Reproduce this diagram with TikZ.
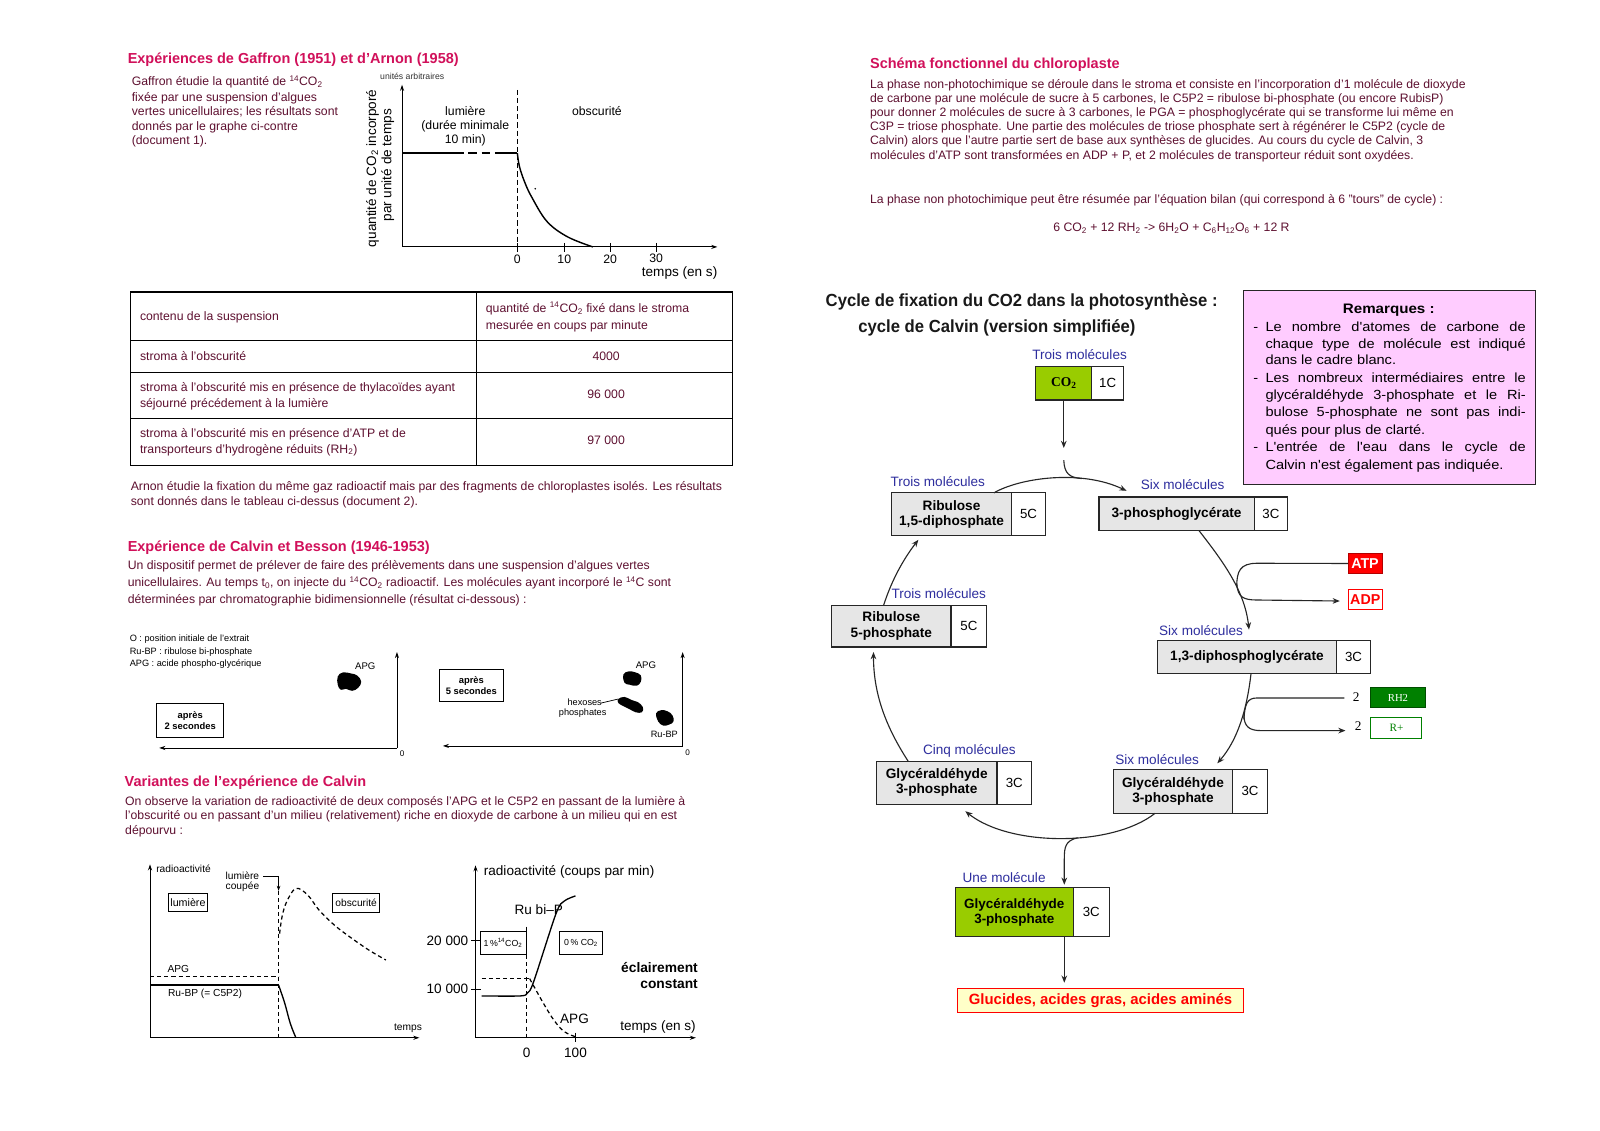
\documentclass[tikz,border=0pt]{standalone}
\usepackage{fontspec}
\setmainfont{Liberation Sans}
\newfontfamily\serifb{Liberation Serif}
\newfontfamily\wide[FakeStretch=1.1]{Liberation Sans}
\newfontfamily\titlef[FakeStretch=0.95]{Liberation Sans}
\usetikzlibrary{arrows.meta,calc}
\definecolor{head}{HTML}{D1105A}
\definecolor{body}{HTML}{5E1030}
\definecolor{lblue}{HTML}{2E2E9E}
\definecolor{gboxc}{HTML}{E6E6E6}
\definecolor{limeg}{HTML}{99CC00}
\definecolor{pinkbg}{HTML}{FFCCFF}
\definecolor{prodbg}{HTML}{FFFFC8}
\definecolor{dgreen}{HTML}{008000}
\newcommand\fsz[2]{\fontsize{#1}{#2}\selectfont}
\newcounter{tl}
\newcommand\tline[4][txt]{\stepcounter{tl}\node[#1] (tl\arabic{tl}) at (#2,#3) {#4};}
\newcommand\cyclebox[9]{%
 \node[#2, minimum width=#4-#3, minimum height=#7-#6] (#1) at (#3,#6) {#8};%
 \node[wbx, minimum width=#5-#4, minimum height=#7-#6] (#1c) at (#4,#6) {#9};}
\tikzset{
 txt/.style={inner sep=0, anchor=base west, text=body, font=\fsz{12}{14}},
 hd/.style={inner sep=0, anchor=base west, text=head, font=\bfseries\fsz{14.2}{16}},
 gt/.style={inner sep=0, text=black, font=\fsz{12}{14}},
 gts/.style={inner sep=0, text=black, font=\fsz{10}{12}},
 gtl/.style={inner sep=0, text=black, font=\fsz{13.3}{15}},
 leg/.style={inner sep=0, anchor=base west, text=black, font=\fsz{9}{11}},
 ax/.style={line width=0.9pt, -{Stealth[length=6pt,width=4pt]}},
 arr/.style={line width=1.1pt, draw=black!85, -{Stealth[length=7pt,width=5.5pt]}},
 lnk/.style={line width=1.1pt, draw=black!85},
 sbox/.style={draw=black, line width=0.8pt, inner sep=0, anchor=north west, align=center},
 gbx/.style={draw=black!85, fill=gboxc, line width=1.1pt, inner sep=0, outer sep=0, anchor=north west, align=center, font=\bfseries\fsz{13.4}{15}},
 grn/.style={gbx, fill=limeg, font=\bfseries\fsz{13.2}{15}},
 wbx/.style={draw=black!85, fill=white, line width=1.1pt, inner sep=0, outer sep=0, anchor=north west, font=\fsz{13}{15}},
 mol/.style={inner sep=0, text=lblue, font=\fsz{13.3}{15}},
 rem/.style={inner sep=0, anchor=base west, text=black, font=\wide\fsz{13}{15}},
 ttl/.style={inner sep=0, anchor=base west, text=black!90, font=\titlef\bfseries\fsz{17.2}{19}},
}
\begin{document}
\begin{tikzpicture}[x=1pt,y=-1pt]
\path[use as bounding box, fill=white] (0,0) rectangle (1568,1108);

% ================= Gaffron / Arnon =================
\tline[hd]{125}{62}{Expériences de Gaffron (1951) et d'Arnon (1958)}
\tline{129}{84}{Gaffron étudie la quantité de \textsuperscript{14}CO\textsubscript{2}}
\tline{129}{99}{fixée par une suspension d'algues}
\tline{129}{113.5}{vertes unicellulaires; les résultats sont}
\tline{129}{127.5}{donnés par le graphe ci-contre}
\tline{129}{141.5}{(document 1).}

% graph 1
\draw[ax] (394,242) -- (394,83);
\draw[ax] (394,242) -- (703,242);
\foreach \xx in {507,553,598,643} \draw[line width=0.9pt] (\xx,238) -- (\xx,247);
\draw[line width=0.9pt, dash pattern=on 5pt off 3pt] (507,88) -- (507,242);
\draw[line width=1.4pt] (394,150) -- (455,150);
\draw[line width=1.4pt, dash pattern=on 8pt off 5pt] (459,150) -- (490,150);
\draw[line width=1.4pt] (490,150) -- (507,150);
\draw[line width=1.4pt] plot[smooth, tension=0.6] coordinates {(507,150) (509,163) (514,178) (521,193) (536,217) (556,232) (581,242)};
\fill (524.5,185) circle (0.8);
\tline[gt]{507}{254}{0}
\tline[gt]{553}{254}{10}
\tline[gt]{598}{254}{20}
\tline[gt]{643}{253.5}{30}
\tline[gtl]{666}{267.5}{temps (en s)}
\tline[gt, font=\fsz{8.5}{10}, text=black!80]{404}{74.5}{unités arbitraires}
\tline[gt]{456}{109}{lumière}
\tline[gt]{456}{123.5}{(durée minimale}
\tline[gt]{456}{138}{10 min)}
\tline[gt]{585}{109}{obscurité}
\tline[gtl, rotate=90]{365}{165}{quantité de CO\textsubscript{2} incorporé}
\tline[gtl, rotate=90]{380}{162}{par unité de temps}

% table
\draw[line width=1.3pt] (128,286) rectangle (718,456);
\draw[line width=1.3pt] (467,286) -- (467,456);
\foreach \yy in {334,365,410} \draw[line width=1.3pt] (128,\yy) -- (718,\yy);
\tline{137}{314}{contenu de la suspension}
\tline{476}{306}{quantité de \textsuperscript{14}CO\textsubscript{2} fixé dans le stroma}
\tline{476}{323}{mesurée en coups par minute}
\tline{137}{353}{stroma à l'obscurité}
\tline[txt, anchor=base]{594}{353}{4000}
\tline{137}{384}{stroma à l'obscurité mis en présence de thylacoïdes ayant}
\tline{137}{399}{séjourné précédement à la lumière}
\tline[txt, anchor=base]{594}{391}{96 000}
\tline{137}{429}{stroma à l'obscurité mis en présence d'ATP et de}
\tline{137}{444}{transporteurs d'hydrogène réduits (RH\textsubscript{2})}
\tline[txt, anchor=base]{594}{436}{97 000}
\tline{128}{481}{Arnon étudie la fixation du même gaz radioactif mais par des fragments de chloroplastes isolés. Les résultats}
\tline{128}{495}{sont donnés dans le tableau ci-dessus (document 2).}

% ================= Calvin & Besson =================
\tline[hd]{125}{540}{Expérience de Calvin et Besson (1946-1953)}
\tline{125}{558}{Un dispositif permet de prélever de faire des prélèvements dans une suspension d'algues vertes}
\tline{125}{575}{unicellulaires. Au temps t\textsubscript{0}, on injecte du \textsuperscript{14}CO\textsubscript{2} radioactif. Les molécules ayant incorporé le \textsuperscript{14}C sont}
\tline{125}{591.5}{déterminées par chromatographie bidimensionnelle (résultat ci-dessous) :}
\tline[leg]{127}{629}{O : position initiale de l'extrait}
\tline[leg]{127}{641}{Ru-BP : ribulose bi-phosphate}
\tline[leg]{127}{653}{APG : acide phospho-glycérique}

% chromatogram left
\draw[ax, line width=0.8pt] (389,733) -- (389,639);
\draw[ax, line width=0.8pt] (389,733) -- (156,733);
\tline[gt, font=\fsz{8}{10}]{394}{739}{0}
\fill plot[smooth cycle, tension=0.7] coordinates {(331,663) (336,659) (344,660) (350,662) (354,668) (351,674) (345,677) (339,675) (334,676) (331,671)};
\tline[gts, font=\fsz{9.4}{11}]{358}{652.5}{APG}
\node[sbox, minimum width=66, minimum height=33, font=\bfseries\fsz{9.2}{10.8}] (b2s) at (153,689) {après\\2 secondes};

% chromatogram right
\draw[ax, line width=0.8pt] (669,731) -- (669,639);
\draw[ax, line width=0.8pt] (669,731) -- (434,731);
\tline[gt, font=\fsz{8}{10}]{674}{738}{0}
\node[sbox, minimum width=63, minimum height=31, font=\bfseries\fsz{9.2}{10.8}] (b5s) at (430,656) {après\\5 secondes};
\fill plot[smooth cycle, tension=0.7] coordinates {(611,661) (616,658) (623,659) (628,662) (628,668) (624,672) (617,671) (612,669)};
\fill plot[smooth cycle, tension=0.7] coordinates {(606,685) (612,683) (619,686) (625,688) (630,693) (629,698) (623,698) (617,695) (611,692) (606,689)};
\fill plot[smooth cycle, tension=0.7] coordinates {(643,699) (648,696) (654,697) (659,701) (660,707) (656,710) (650,711) (645,707)};
\tline[gts, font=\fsz{9.4}{11}]{633}{652}{APG}
\tline[gts, font=\fsz{9}{11}]{573}{688.5}{hexoses}
\tline[gts, font=\fsz{9}{11}]{571}{699}{phosphates}
\draw[line width=0.7pt] (589,689) -- (606,685);
\tline[gts, font=\fsz{9}{11}]{651}{719.5}{Ru-BP}

% ================= Variantes =================
\tline[hd]{122}{771}{Variantes de l'expérience de Calvin}
\tline{122.5}{789.5}{On observe la variation de radioactivité de deux composés l'APG et le C5P2 en passant de la lumière à}
\tline{122.5}{803.5}{l'obscurité ou en passant d'un milieu (relativement) riche en dioxyde de carbone à un milieu qui en est}
\tline{122.5}{817.5}{dépourvu :}

% left graph
\draw[ax] (147,1017) -- (147,847);
\draw[ax] (147,1017) -- (411,1017);
\tline[gts, anchor=west]{153}{851.5}{radioactivité}
\tline[gts, anchor=west]{221}{858.5}{lumière}
\tline[gts, anchor=west]{221}{869.5}{coupée}
\draw[line width=0.8pt, -{Stealth[length=5pt,width=3.5pt]}] (258,858.5) -- (273,858.5) -- (273,873);
\draw[line width=0.9pt, dash pattern=on 4pt off 3pt] (273,873) -- (273,1017);
\node[sbox, minimum width=38.6, minimum height=17, font=\fsz{10.5}{12}] (blum) at (164.5,875.5) {lumière};
\node[sbox, minimum width=45.7, minimum height=18, font=\fsz{10}{12}] (bobs) at (325.8,875.5) {obscurité};
\draw[line width=1.2pt, dash pattern=on 4pt off 3pt] (147,957) -- (273,957);
\draw[line width=1.2pt, dash pattern=on 4pt off 3pt] plot[smooth, tension=0.6] coordinates {(274,915) (276.5,898) (281,883.6) (290,870.6) (301.4,877) (312.6,891.8) (327.6,906.5) (342.6,918) (361.4,931) (378.2,940.8)};
\draw[line width=1.3pt] (147,965.3) -- (273,965.3);
\draw[line width=1.3pt] plot[smooth, tension=0.6] coordinates {(273,965.3) (279,983) (284.5,1003) (290,1017)};
\tline[gts, anchor=west]{164}{949.5}{APG}
\tline[gts, anchor=west]{164.5}{973.5}{Ru-BP (= C5P2)}
\tline[gts, anchor=west]{386}{1008}{temps}

% right graph
\draw[ax] (466,1017) -- (466,848);
\draw[ax] (466,1017) -- (682,1017);
\tline[gtl, anchor=west]{474}{854.5}{radioactivité (coups par min)}
\draw[line width=0.8pt] (462,922) -- (471,922);
\draw[line width=0.8pt] (462,969.5) -- (471,969.5);
\tline[gtl, anchor=east]{459}{922}{20 000}
\tline[gtl, anchor=east]{459}{969.5}{10 000}
\draw[line width=0.8pt] (564,1012) -- (564,1021);
\tline[gtl]{516}{1032}{0}
\tline[gtl]{564}{1032}{100}
\draw[line width=0.9pt, dash pattern=on 4pt off 3pt] (516,908) -- (516,1017);
\node[sbox, minimum width=45, minimum height=22.8, font=\fsz{8.6}{10}] (b1co) at (470,912.4) {1\,\%\textsuperscript{14}CO\textsubscript{2}};
\node[sbox, minimum width=42, minimum height=22.8, font=\fsz{8.6}{10}] (b0co) at (548,912.4) {0\,\% CO\textsubscript{2}};
\tline[gtl]{528}{891.5}{Ru bi--P}
\draw[line width=1.3pt] plot[smooth, tension=0.5] coordinates {(472,976) (510,976) (517,973) (523,962) (545,895) (553,883) (564,878)};
\draw[line width=1.2pt, dash pattern=on 4pt off 3pt] (472,959) -- (519,959);
\draw[line width=1.2pt, dash pattern=on 4pt off 3pt] plot[smooth, tension=0.6] coordinates {(519,959) (524,968) (533,984) (543,1000) (553,1011) (564,1016)};
\tline[gtl]{563}{998}{APG}
\tline[gtl, anchor=east, font=\bfseries\fsz{13.5}{15}]{684}{948}{éclairement}
\tline[gtl, anchor=east, font=\bfseries\fsz{13.5}{15}]{684}{964}{constant}
\tline[gtl, anchor=east]{682}{1006}{temps (en s)}

% ================= Right page =================
\tline[hd]{852.5}{67}{Schéma fonctionnel du chloroplaste}
\tline{852.5}{87}{La phase non-photochimique se déroule dans le stroma et consiste en l'incorporation d'1 molécule de dioxyde}
\tline{852.5}{100.7}{de carbone par une molécule de sucre à 5 carbones, le C5P2 = ribulose bi-phosphate (ou encore RubisP)}
\tline{852.5}{114.5}{pour donner 2 molécules de sucre à 3 carbones, le PGA = phosphoglycérate qui se transforme lui même en}
\tline{852.5}{128.3}{C3P = triose phosphate. Une partie des molécules de triose phosphate sert à régénérer le C5P2 (cycle de}
\tline{852.5}{142}{Calvin) alors que l'autre partie sert de base aux synthèses de glucides. Au cours du cycle de Calvin, 3}
\tline{852.5}{156}{molécules d'ATP sont transformées en ADP + P, et 2 molécules de transporteur réduit sont oxydées.}
\tline{852.5}{199}{La phase non photochimique peut être résumée par l'équation bilan (qui correspond à 6 "tours" de cycle) :}
\tline[txt, anchor=base]{1148}{227}{6 CO\textsubscript{2} + 12 RH\textsubscript{2} -> 6H\textsubscript{2}O + C\textsubscript{6}H\textsubscript{12}O\textsubscript{6} + 12 R}

% ---- cycle title
\tline[ttl]{809}{300}{Cycle de fixation du CO2 dans la photosynthèse :}
\tline[ttl]{841}{326}{cycle de Calvin (version simplifiée)}

% ---- remarques
\node[draw=black!85, fill=pinkbg, line width=1pt, minimum width=286, minimum height=190, inner sep=0, anchor=north west] (remb) at (1218,284) {};
\tline[rem, anchor=base, font=\wide\bfseries\fsz{13.5}{15}]{1361}{307}{Remarques :}
\tline[rem]{1228}{324.5}{-}
\tline[rem]{1240}{324.5}{\makebox[255pt][s]{Le nombre d'atomes de carbone de}}
\tline[rem]{1240}{341.5}{\makebox[255pt][s]{chaque type de molécule est indiqué}}
\tline[rem]{1240}{357.5}{dans le cadre blanc.}
\tline[rem]{1228}{374.5}{-}
\tline[rem]{1240}{374.5}{\makebox[255pt][s]{Les nombreux intermédiaires entre le}}
\tline[rem]{1240}{391.5}{\makebox[255pt][s]{glycéraldéhyde 3-phosphate et le Ri-}}
\tline[rem]{1240}{408.5}{\makebox[255pt][s]{bulose 5-phosphate ne sont pas indi-}}
\tline[rem]{1240}{425.5}{qués pour plus de clarté.}
\tline[rem]{1228}{442.5}{-}
\tline[rem]{1240}{442.5}{\makebox[255pt][s]{L'entrée de l'eau dans le cycle de}}
\tline[rem]{1240}{460.5}{Calvin n'est également pas indiquée.}

% ---- boxes
\cyclebox{co2}{grn}{1015}{1070}{1101}{359}{392}{{\serifb CO\textsubscript{2}}}{1C}
\cyclebox{rubp}{gbx}{874}{991}{1025}{483}{525}{Ribulose\\1,5-diphosphate}{5C}
\cyclebox{pga}{gbx}{1077}{1229}{1262}{487}{520}{3-phosphoglycérate}{3C}
\cyclebox{dpg}{gbx}{1134}{1310}{1343}{628}{660}{1,3-diphosphoglycérate}{3C}
\cyclebox{gapr}{gbx}{1091}{1208}{1242}{754}{797}{Glycéraldéhyde\\3-phosphate}{3C}
\cyclebox{gapl}{gbx}{859}{977}{1011}{746}{788}{Glycéraldéhyde\\3-phosphate}{3C}
\cyclebox{rufp}{gbx}{815}{932}{967}{593}{634}{Ribulose\\5-phosphate}{5C}
\cyclebox{gapf}{grn}{936}{1052}{1087}{870}{918}{Glycéraldéhyde\\3-phosphate}{3C}
\node[draw=red, fill=prodbg, line width=1.1pt, minimum width=280, minimum height=24, inner sep=0, anchor=north west, text=red, font=\bfseries\fsz{14.6}{16}] (prod) at (938,968) {Glucides, acides gras, acides aminés};
\node[draw=red!70!black, fill=red, text=white, font=\bfseries\fsz{14}{16}, minimum width=33, minimum height=20, inner sep=0, anchor=north west] (atp) at (1321,542) {ATP};
\node[draw=red, line width=1pt, fill=white, text=red, font=\bfseries\fsz{14}{16}, minimum width=33, minimum height=20, inner sep=0, anchor=north west] (adp) at (1321,577) {ADP};
\node[draw=dgreen!60!black, line width=1pt, fill=dgreen, text=white, font=\serifb\fsz{10.5}{12}, minimum width=53, minimum height=20, inner sep=0, anchor=north west] (rh) at (1343,673) {RH2};
\node[draw=dgreen, line width=1pt, fill=white, text=dgreen, font=\serifb\fsz{11}{12}, minimum width=50, minimum height=20, inner sep=0, anchor=north west] (rp) at (1343,703) {R+};
\node[inner sep=0, font=\serifb\fsz{13}{15}] (two1) at (1329,683) {2};
\node[inner sep=0, font=\serifb\fsz{13}{15}] (two2) at (1331,712) {2};

% ---- molecule labels
\tline[mol]{1058}{347}{Trois molécules}
\tline[mol]{919}{472}{Trois molécules}
\tline[mol]{1159}{475}{Six molécules}
\tline[mol]{1177}{618}{Six molécules}
\tline[mol]{1134}{744}{Six molécules}
\tline[mol]{950}{736}{Cinq molécules}
\tline[mol]{920}{582}{Trois molécules}
\tline[mol]{984}{860}{Une molécule}

% ---- connectors
\draw[arr] (co2.south) -- ($(co2.south)+(0,47)$);
\draw[arr] ($(rubp.north west)+(100,0)$) .. controls (1000,468) and (1060,460) .. ($(pga.north west)+(27,-6)$);
\draw[lnk] ($(co2.south)+(0,59)$) .. controls (1043,464) and (1048,468) .. (1060,469);
\draw[arr] ($(pga.south west)+(98,0)$) .. controls (1200,552) and (1220,580) .. ($(dpg.north west)+(90,-11)$);
\draw[lnk] (atp.west) -- (1232,552) .. controls (1215,552) and (1212,560) .. (1212,575);
\draw[arr] (1212,572) .. controls (1213,585) and (1218,588) .. (1232,588) -- ($(adp.west)+(-8,1.5)$);
\draw[arr] ($(dpg.south west)+(92,0)$) .. controls (1222,695) and (1213,725) .. ($(gapr.north west)+(102,-6)$);
\draw[lnk] ($(two1.west)+(-8,1)$) -- (1232,684) .. controls (1222,684) and (1220,690) .. (1219,705);
\draw[arr] (1219,700) .. controls (1219,712) and (1224,716) .. (1236,716) -- ($(two2.west)+(-9,4)$);
\draw[arr] ($(gapr.south west)+(41,0)$) .. controls (1090,830) and (990,830) .. ($(gapl.south west)+(87,7)$);
\draw[arr] (1056,821) .. controls (1044,824) and (1043,830) .. (1043,842) -- ($(gapf.north west)+(107,-3)$);
\draw[arr] ($(gapf.south west)+(107,0)$) -- ($(prod.north west)+(105,-5)$);
\draw[arr] ($(gapl.north west)+(31,0)$) .. controls (868,712) and (856,680) .. ($(rufp.south west)+(41,5)$);
\draw[arr] ($(rufp.north west)+(51,0)$) .. controls (874,568) and (886,547) .. ($(rubp.south west)+(26,4)$);
\end{tikzpicture}
\end{document}
